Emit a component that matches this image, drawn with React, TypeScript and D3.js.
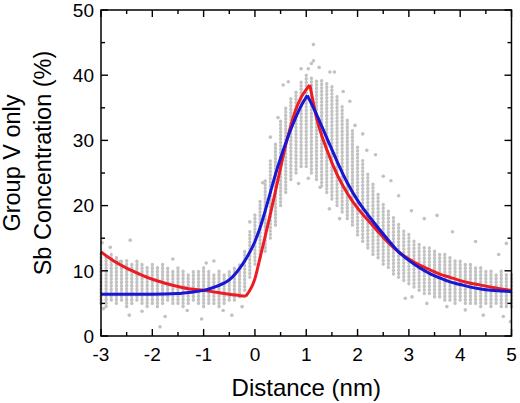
import React from "react";
import * as d3 from "d3";

// scatter columns: distance (nm), dense band low / high (%)
const colX = [
  -3.0, -2.9, -2.8, -2.7, -2.6, -2.5, -2.4, -2.3, -2.2, -2.1,
  -2.0, -1.9, -1.8, -1.7, -1.6, -1.5, -1.4, -1.3, -1.2, -1.1,
  -1.0, -0.9, -0.8, -0.7, -0.6, -0.5, -0.4, -0.3, -0.2, -0.1,
  0.0, 0.1, 0.2, 0.3, 0.4, 0.5, 0.6, 0.7, 0.8, 0.9,
  1.0, 1.1, 1.2, 1.3, 1.4, 1.5, 1.6, 1.7, 1.8, 1.9,
  2.0, 2.1, 2.2, 2.3, 2.4, 2.5, 2.6, 2.7, 2.8, 2.9,
  3.0, 3.1, 3.2, 3.3, 3.4, 3.5, 3.6, 3.7, 3.8, 3.9,
  4.0, 4.1, 4.2, 4.3, 4.4, 4.5, 4.6, 4.7, 4.8, 4.9, 5.0,
];
const colLo = [
  5.0, 4.5, 5.5, 5.0, 5.5, 4.5, 5.0, 5.5, 5.0, 4.5,
  5.0, 4.5, 5.0, 5.5, 5.0, 5.0, 4.5, 5.0, 5.5, 5.0,
  4.5, 5.0, 5.0, 4.5, 5.0, 5.5, 5.5, 6.0, 7.0, 9.0,
  11.0, 12.0, 13.0, 15.0, 17.0, 20.0, 22.0, 24.0, 25.0, 26.0,
  26.0, 25.0, 24.0, 23.0, 22.0, 21.0, 20.0, 19.0, 18.0, 17.0,
  15.5, 14.5, 13.5, 12.5, 12.0, 11.0, 10.5, 9.5, 9.0, 8.5,
  8.0, 7.5, 7.0, 6.5, 6.5, 6.0, 6.0, 5.5, 5.5, 5.0,
  5.5, 5.0, 5.0, 5.0, 4.5, 5.0, 4.5, 5.0, 4.5, 4.5, 4.5,
];
const colHi = [
  13.0, 12.5, 12.5, 12.0, 11.5, 12.0, 11.0, 11.5, 11.0, 10.5,
  11.0, 10.5, 11.0, 10.5, 10.0, 10.5, 10.0, 9.5, 10.0, 10.0,
  10.5, 10.0, 9.5, 10.0, 9.5, 10.0, 10.5, 11.0, 13.0, 16.0,
  19.0, 21.0, 24.0, 27.0, 29.5, 33.0, 35.0, 36.5, 37.5, 39.0,
  40.0, 40.0, 39.5, 39.5, 39.0, 38.5, 37.0, 35.5, 33.5, 31.5,
  29.0, 27.0, 25.0, 23.5, 22.0, 20.5, 19.5, 18.5, 17.5, 16.5,
  16.0, 15.0, 14.5, 14.0, 13.5, 13.0, 12.5, 12.5, 12.0, 11.5,
  11.5, 11.0, 11.0, 10.5, 10.5, 10.0, 10.0, 9.5, 10.0, 9.5, 9.5,
];

// isolated points
const outX = [
  -2.98, -2.95, -2.82, -2.63, -2.43, -2.45, -2.2, -1.85, -1.75, -1.6,
  -1.32, -1.04, -0.95, -0.8, -0.45, -0.62, -0.25, -0.1, 0.15, 0.3,
  0.45, 0.55, 0.65, 0.9, 1.04, 1.14, 1.14, 1.1, 1.25, 1.46,
  1.55, 1.72, 1.85, 1.95, 2.1, 2.18, 2.35, 2.5, 2.65, 2.8,
  3.05, 3.3, 3.55, 3.85, 4.3, 4.9, 4.75, 1.04, 0.85, 1.27,
  1.45, 1.65, 2.93, 3.06, 3.35, 3.74, 4.1, 4.45, 4.84, 4.98,
];
const outY = [
  14.3, 4.2, 13.6, 11.4, 14.7, 3.2, 3.8, 1.4, 3.0, 11.8,
  3.9, 2.6, 11.2, 11.5, 3.2, 3.9, 4.5, 17.5, 23.5, 30.5,
  33.5, 38.5, 39.0, 41.0, 41.0, 44.7, 42.2, 41.8, 41.2, 40.5,
  40.5, 37.5, 36.0, 32.3, 31.0, 28.5, 27.8, 24.5, 23.8, 21.5,
  19.2, 18.0, 18.5, 16.0, 14.5, 14.2, 12.5, 24.2, 23.4, 22.8,
  19.5, 18.0, 5.8, 6.0, 5.0, 4.5, 4.0, 3.2, 3.0, 2.2,
];

// fitted curves
const redX = [
  -3, -2.75, -2.5, -2.25, -2, -1.75, -1.5, -1.25, -1, -0.75, -0.5, -0.18,
  0, 0.1, 0.2, 0.3, 0.4, 0.5, 0.6, 0.7, 0.8, 0.9, 1.0, 1.07,
  1.2, 1.4, 1.6, 1.8, 2.0, 2.2, 2.4, 2.6, 2.8, 3.0, 3.2, 3.4, 3.6, 3.8,
  4.0, 4.2, 4.4, 4.6, 4.8, 5.0,
];
const redY = [
  12.9, 11.5, 10.4, 9.5, 8.7, 8.1, 7.6, 7.2, 7.0, 6.7, 6.4, 6.1,
  8.8, 12.0, 15.3, 18.7, 22.2, 25.8, 29.3, 32.3, 34.8, 36.6, 37.8, 38.5,
  33.5, 28.6, 24.8, 21.9, 19.6, 17.8, 16.0, 14.3, 12.9, 11.8, 10.9, 10.2, 9.5, 9.0,
  8.5, 8.1, 7.8, 7.5, 7.2, 7.0,
];
const blueX = [
  -3, -2.5, -2, -1.5, -1.25, -1, -0.75, -0.5, -0.25, 0, 0.1, 0.2, 0.3, 0.4,
  0.5, 0.6, 0.7, 0.8, 0.9, 1.02, 1.2, 1.4, 1.6, 1.8, 2.0, 2.2, 2.4, 2.6,
  2.8, 3.0, 3.2, 3.4, 3.6, 3.8, 4.0, 4.2, 4.4, 4.6, 4.8, 5.0,
];
const blueY = [
  6.4, 6.4, 6.4, 6.5, 6.7, 7.0, 7.6, 8.6, 10.9, 14.5, 16.6, 19.2, 22.0, 24.8,
  27.3, 29.6, 31.7, 33.6, 35.3, 36.9, 34.0, 30.4, 26.8, 23.5, 20.8, 18.6, 16.6, 14.7,
  12.9, 11.6, 10.5, 9.6, 8.9, 8.3, 7.9, 7.5, 7.2, 7.0, 6.9, 6.8,
];

const xTicks = [-3, -2, -1, 0, 1, 2, 3, 4, 5];
const yTicks = [0, 10, 20, 30, 40, 50];

const W = 520;
const H = 403;
const font = "'Liberation Sans', Arial, Helvetica, sans-serif";

// split a polyline at local extrema so each piece can use a monotone curve
function pieces(xs: number[], ys: number[]) {
  const out: [number, number][][] = [];
  let cur: [number, number][] = [[xs[0], ys[0]]];
  for (let i = 1; i < xs.length; i++) {
    cur.push([xs[i], ys[i]]);
    if (i < xs.length - 1) {
      const a = ys[i] - ys[i - 1];
      const b = ys[i + 1] - ys[i];
      if (a * b < 0) {
        out.push(cur);
        cur = [[xs[i], ys[i]]];
      }
    }
  }
  out.push(cur);
  return out;
}

export default function App() {
  const left = 101, right = 511.5, top = 10, bottom = 336;
  const x = d3.scaleLinear().domain([-3, 5]).range([left, right]);
  const y = d3.scaleLinear().domain([0, 50]).range([bottom, top]);

  const line = d3
    .line<[number, number]>()
    .x((d) => x(d[0]))
    .y((d) => y(d[1]))
    .curve(d3.curveMonotoneX);

  const curvePath = (xs: number[], ys: number[]) =>
    pieces(xs, ys).map((p) => line(p)).join("");

  const xMinor = d3.range(-2.5, 5, 1);
  const yMinor = d3.range(5, 50, 10);

  return (
    <div style={{ position: "absolute", left: 0, top: 0 }}>
      <svg width={W} height={H} style={{ display: "block", background: "#fff" }}>
        {/* scatter columns drawn as dotted streaks */}
        <g stroke="#c2c2c2" strokeWidth={3.3} strokeDasharray="0.4 3.1" strokeLinecap="round">
          {colX.map((cx, i) => (
            <line key={i} x1={x(cx)} x2={x(cx)} y1={y(colLo[i])} y2={y(colHi[i])} />
          ))}
        </g>
        <g fill="#c2c2c2">
          {outX.map((ox, i) => (
            <circle key={i} cx={x(ox)} cy={y(outY[i])} r={1.8} />
          ))}
        </g>

        <path d={curvePath(redX, redY)} fill="none" stroke="#ec1c24" strokeWidth={3} strokeLinejoin="round" />
        <path d={curvePath(blueX, blueY)} fill="none" stroke="#1717d4" strokeWidth={3} strokeLinejoin="round" />

        {/* frame and inward ticks */}
        <rect x={left} y={top} width={right - left} height={bottom - top} fill="none" stroke="#000" strokeWidth={1.5} />
        <g stroke="#000" strokeWidth={1.4}>
          {xTicks.map((t) => (
            <g key={"xt" + t}>
              <line x1={x(t)} x2={x(t)} y1={bottom} y2={bottom - 7} />
              <line x1={x(t)} x2={x(t)} y1={top} y2={top + 7} />
            </g>
          ))}
          {xMinor.map((t) => (
            <g key={"xm" + t}>
              <line x1={x(t)} x2={x(t)} y1={bottom} y2={bottom - 4} />
              <line x1={x(t)} x2={x(t)} y1={top} y2={top + 4} />
            </g>
          ))}
          {yTicks.map((t) => (
            <g key={"yt" + t}>
              <line x1={left} x2={left + 7} y1={y(t)} y2={y(t)} />
              <line x1={right} x2={right - 7} y1={y(t)} y2={y(t)} />
            </g>
          ))}
          {yMinor.map((t) => (
            <g key={"ym" + t}>
              <line x1={left} x2={left + 4} y1={y(t)} y2={y(t)} />
              <line x1={right} x2={right - 4} y1={y(t)} y2={y(t)} />
            </g>
          ))}
        </g>

        <g fontFamily={font} fontSize={19} fill="#000">
          {xTicks.map((t) => (
            <text key={"xl" + t} x={x(t)} y={360.5} textAnchor="middle">
              {t}
            </text>
          ))}
          {yTicks.map((t) => (
            <text key={"yl" + t} x={94} y={y(t)} dy="0.36em" textAnchor="end">
              {t}
            </text>
          ))}
        </g>

        <g fontFamily={font} fill="#000">
          <text x={(left + right) / 2} y={396} textAnchor="middle" fontSize={24}>
            Distance (nm)
          </text>
          <text transform="translate(20,163) rotate(-90)" textAnchor="middle" fontSize={23.5}>
            Group V only
          </text>
          <text transform="translate(51,163) rotate(-90)" textAnchor="middle" fontSize={23.5}>
            Sb Concentration (%)
          </text>
        </g>
      </svg>
    </div>
  );
}
